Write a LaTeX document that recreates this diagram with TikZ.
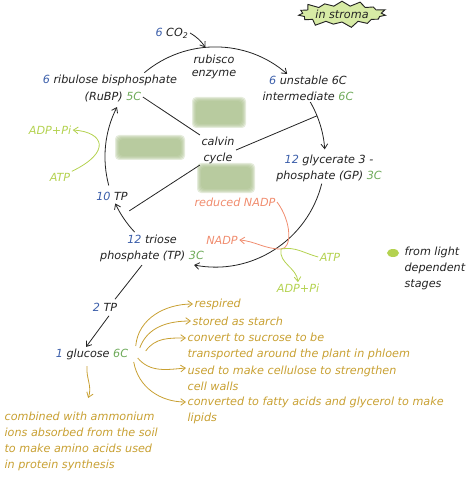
\documentclass[tikz,border=0pt]{standalone}
\usepackage{fontspec}
\setmainfont{DejaVu Sans}
\usetikzlibrary{arrows.meta,calc,shapes.symbols}

\definecolor{ink}{RGB}{35,35,35}
\definecolor{numblue}{RGB}{60,95,170}
\definecolor{carbgreen}{RGB}{110,170,90}
\definecolor{ldgreen}{RGB}{180,210,80}
\definecolor{salmon}{RGB}{240,140,110}
\definecolor{gold}{RGB}{200,160,50}
\definecolor{badge}{RGB}{215,235,165}
\definecolor{patch}{RGB}{170,192,140}

\newcommand\numtxt[1]{\textcolor{numblue}{#1}}
\newcommand\carbtxt[1]{\textcolor{carbgreen}{#1}}

\begin{document}
\begin{tikzpicture}[x=0.75pt,y=-0.75pt,
  hand/.style={font=\itshape\fontsize{8.4}{12}\selectfont, text=ink, inner sep=1pt},
  cyc/.style={draw=ink, line width=0.6pt},
  tip/.style={-{Straight Barb[length=3.5pt,width=5pt]}},
  fate/.style={hand, text=gold, anchor=west, align=left},
  fatearrow/.style={draw=gold, line width=0.6pt, tip},
  ldarrow/.style={draw=ldgreen, line width=0.6pt, tip}]
  \useasboundingbox (0,0) rectangle (474,477);

  % blurred patches
  \foreach \x/\y/\w/\h in {192/97/54/31, 115/135/70/25, 197/163/58/30}
    \foreach \i in {0,...,4}
      \fill[patch, opacity=0.3, rounded corners=3pt]
        (\x+\i,\y+\i) rectangle ++(\w-2*\i,\h-2*\i);

  % badge
  \node[starburst, starburst points=15, starburst point height=5pt,
    fill=badge, draw=ink, line width=0.7pt, minimum width=58pt,
    minimum height=21pt, inner sep=0pt, hand] (stroma) at (342,14) {in stroma};

  % cycle labels
  \node[hand] (co2) at (172,33) {\numtxt{6} CO\textsubscript{2}};
  \node[hand] (rubp) at (110,80) {\numtxt{6} ribulose bisphosphate};
  \node[hand] (rubpx) at (113,97) {(RuBP) \carbtxt{5C}};
  \node[hand, align=center, font=\itshape\fontsize{8.4}{9.5}\selectfont]
    (rubisco) at (214,67) {rubisco\\enzyme};
  \node[hand, align=center] (unst) at (308,88)
    {\numtxt{6} unstable 6C\\intermediate \carbtxt{6C}};
  \node[hand, align=center] (gp) at (329,168)
    {\numtxt{12} glycerate 3 -\\phosphate (GP) \carbtxt{3C}};
  \node[hand, align=center] (calvin) at (218,150) {calvin\\cycle};
  \node[hand] (tp10) at (112,196) {\numtxt{10} TP};
  \node[hand, align=center] (triose) at (152,248)
    {\numtxt{12} triose\\phosphate (TP) \carbtxt{3C}};
  \node[hand, text=salmon] (rednadp) at (235,202) {reduced NADP};
  \node[hand, text=salmon] (nadp) at (222,240) {NADP};
  \node[hand, text=ldgreen] (atpR) at (330,257) {ATP};
  \node[hand, text=ldgreen] (adpR) at (298,288) {ADP+Pi};
  \node[hand, text=ldgreen] (adpL) at (50,130) {ADP+Pi};
  \node[hand, text=ldgreen] (atpL) at (60,177) {ATP};

  % legend
  \fill[ldgreen] (393,253) ellipse [x radius=6, y radius=4] coordinate (dot);
  \node[hand, align=left, anchor=north west] (legend) at (403,245)
    {from light\\dependent\\stages};

  % the cycle
  \coordinate (ctr) at (215,157);
  \coordinate (top) at ($(ctr)+(-95:110)$);
  \coordinate (c22) at ($(ctr)+(-22:110)$);
  \coordinate (cross) at (281,249);
  \draw[cyc, tip] (co2.east) to[bend left=12] (top);
  \draw[cyc, tip] ($(ctr)+(-130:110)$) arc[start angle=-130, end angle=-49, radius=110];
  \draw[cyc, tip] ($(ctr)+(-30:110)$) arc[start angle=-30, end angle=-4, radius=110];
  \draw[cyc, tip] ($(ctr)+(14:110)$) arc[start angle=14, end angle=101, radius=110];
  \draw[cyc, tip] ($(ctr)+(137:110)$) arc[start angle=137, end angle=155, radius=110];
  \draw[cyc, tip] ($(ctr)+(165:110)$) arc[start angle=165, end angle=207, radius=110];
  \draw[cyc] (rubpx.east) -- (calvin.north west);
  \draw[cyc] (calvin.east) -- (c22);
  \draw[cyc] (calvin.south west) -- ($(tp10.south east)+(0,9)$);

  % NADP and ATP
  \draw[salmon, line width=0.6pt, tip] (rednadp.east) .. controls (292,222) and (292,249) .. (cross)
    to[out=180, in=-5] (nadp.east);
  \draw[ldarrow] (atpR.west) to[out=165, in=10] (cross) to[out=-100, in=95] (adpR.north);
  \draw[ldarrow] (atpL.north east) .. controls (112,152) and (104,132) .. (adpL.east);

  % triose to glucose
  \node[hand] (tp2) at (105,307) {\numtxt{2} TP};
  \node[hand] (glucose) at (92,354) {\numtxt{1} glucose \carbtxt{6C}};
  \draw[cyc] ($(triose.south)+(-10,2)$) -- ($(tp2.north)+(10,-2)$);
  \draw[cyc, tip] ($(tp2.south)+(4,3)$) -- ($(glucose.north)+(-6,0)$);

  % fates of glucose
  \node[fate] (resp) at (193,304) {respired};
  \node[fate] (starch) at (191,321) {stored as starch};
  \node[fate] (sucrose) at (186,346) {convert to sucrose to be\\transported around the plant in phloem};
  \node[fate] (cellulose) at (186,378) {used to make cellulose to strengthen\\cell walls};
  \node[fate] (lipids) at (186,410) {converted to fatty acids and glycerol to make\\lipids};
  \node[hand, text=gold, anchor=north west, align=left] (amino) at (3,410)
    {combined with ammonium\\ions absorbed from the soil\\to make amino acids used\\in protein synthesis};
  \draw[fatearrow] ($(glucose.east)+(6,-8)$) to[out=85, in=180] (resp.west);
  \draw[fatearrow] ($(glucose.east)+(10,-6)$) to[out=70, in=180] (starch.west);
  \draw[fatearrow] ($(glucose.east)+(16,-3)$) to[out=55, in=180] ($(sucrose.west)+(0,-8)$);
  \draw[fatearrow] ($(glucose.east)+(8,4)$) to[out=-50, in=185] ($(cellulose.west)+(0,-10)$);
  \draw[fatearrow] ($(glucose.east)+(4,8)$) to[out=-80, in=180] ($(lipids.west)+(0,-8)$);
  \draw[fatearrow] ($(glucose.south)+(-5,5)$) to[out=-95, in=70] ($(amino.north)+(7,-12)$);
\end{tikzpicture}
\end{document}
